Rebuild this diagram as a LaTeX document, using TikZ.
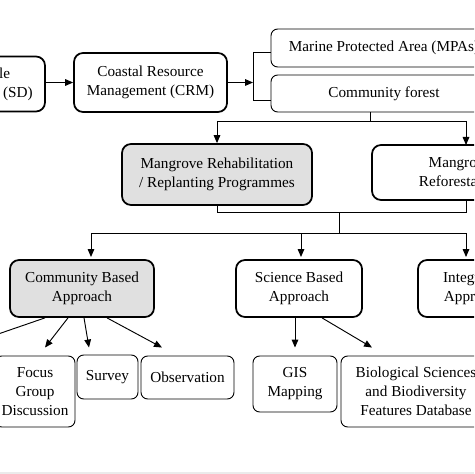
\documentclass[tikz,border=0pt]{standalone}
\usepackage{fontspec}
\setmainfont{Liberation Serif}
\usetikzlibrary{arrows.meta}

\begin{document}
\begin{tikzpicture}[x=0.3mm, y=-0.3mm,
    every node/.style={font=\fontsize{13}{16.2}\selectfont, align=center, inner sep=0pt},
    bigbox/.style={draw, line width=1.5pt, rounded corners=2.7mm},
    smallbox/.style={draw, line width=0.8pt, rounded corners=2mm},
    greybox/.style={bigbox, fill=black!12},
    arr/.style={-{Triangle[length=2.4mm,width=2mm]}, line width=0.8pt},
    ln/.style={line width=0.8pt}]
    \useasboundingbox (0,0) rectangle (474,474);
    \clip (0,0) rectangle (474,474);
    \fill[black!8] (0,472) rectangle (474,474);

    % top row
    \node[bigbox, minimum width=42mm, minimum height=16.5mm] (sd) at (-25,84) {Sustainable\\Development (SD)};
    \node[bigbox, minimum width=45.9mm, minimum height=17.7mm] (crm) at (150.5,82.5) {Coastal Resource\\Management (CRM)};
    \node[smallbox, minimum width=67.8mm, minimum height=11.4mm] (mpa) at (384,48) {Marine Protected Area (MPAs)};
    \node[smallbox, minimum width=67.8mm, minimum height=11.1mm] (cf) at (384,93.5) {Community forest};

    \draw[arr] (sd.east |- crm) -- (crm.west);
    \coordinate (br) at (253,82.5);
    \coordinate (br1) at (253,52);
    \coordinate (br2) at (253,100);
    \draw[arr] (crm.east) -- (br);
    \draw[ln] (br1) -- (br2);
    \draw[ln] (br1) -- (br1 -| mpa.west);
    \draw[ln] (br2) -- (br2 -| cf.west);

    % programmes
    \node[greybox, minimum width=57mm, minimum height=18.3mm] (rehab) at (217,174.5) {Mangrove Rehabilitation\\/ Replanting Programmes};
    \node[bigbox, minimum width=52.8mm, minimum height=16.5mm] (refo) at (460,172.5) {Mangrove\\Reforestation};

    \coordinate (cfdown) at (370,121);
    \coordinate (refotop) at (466,145);
    \draw[ln] (cfdown |- cf.south) -- (cfdown);
    \draw[ln] (rehab.north |- cfdown) -- (refotop |- cfdown);
    \draw[arr] (rehab.north |- cfdown) -- (rehab.north);
    \draw[arr] (refotop |- cfdown) -- (refotop);

    % approaches
    \node[greybox, minimum width=43.2mm, minimum height=17.1mm] (cba) at (82,288.5) {Community Based\\Approach};
    \node[bigbox, minimum width=37.8mm, minimum height=17.1mm] (sba) at (299,288.5) {Science Based\\Approach};
    \node[bigbox, minimum width=33.6mm, minimum height=17.1mm] (ia) at (474,288.5) {Integrated\\Approach};

    \coordinate (join1) at (339,212);
    \coordinate (join2) at (339,233);
    \draw[ln] (rehab.south) -- (rehab.south |- join1) -- (refotop |- join1) -- (refotop |- refo.south);
    \draw[ln] (join1) -- (join2);
    \draw[ln] (91,233) -- (466,233);
    \draw[arr] (91,233) -- (91 ,257);
    \draw[arr] (301,233) -- (301,257);
    \draw[arr] (466,233) -- (466,257);

    % methods
    \node[smallbox, minimum width=24mm, minimum height=21.3mm] (fgd) at (35,391.5) {Focus\\Group\\Discussion};
    \node[smallbox, minimum width=18.3mm, minimum height=13.2mm] (sur) at (107.5,377) {Survey};
    \node[smallbox, minimum width=27.9mm, minimum height=12.9mm] (obs) at (187.5,377.5) {Observation};
    \node[smallbox, minimum width=25.2mm, minimum height=16.8mm] (gis) at (295,384) {GIS\\Mapping};
    \node[smallbox, minimum width=45mm, minimum height=21.3mm] (bio) at (416,391.5) {Biological Sciences\\and Biodiversity\\Features Database};

    \coordinate (offleft) at (-25,342);
    \draw[arr] ([shift={(-37,0)}]cba.south) -- (offleft);
    \draw[arr] ([shift={(-14,0)}]cba.south) -- ([shift={(10,-8)}]fgd.north);
    \draw[arr] ([shift={(2,0)}]cba.south) -- ([shift={(-18.5,-7)}]sur.north);
    \draw[arr] ([shift={(25,0)}]cba.south) -- ([shift={(-25.5,-8)}]obs.north);
    \draw[arr] ([shift={(-4,0)}]sba.south) -- ([shift={(0,-8)}]gis.north);
    \draw[arr] ([shift={(23,0)}]sba.south) -- ([shift={(-44,-8)}]bio.north);

\end{tikzpicture}
\end{document}
